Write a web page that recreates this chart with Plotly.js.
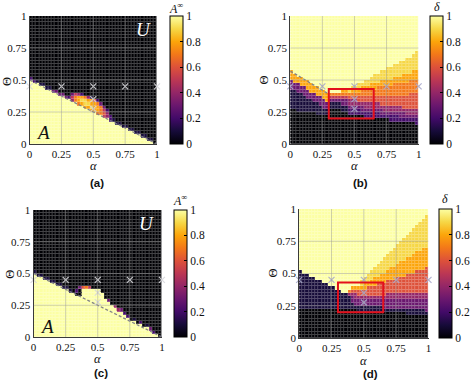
<!DOCTYPE html>
<html><head><meta charset="utf-8">
<script src="https://cdn.plot.ly/plotly-3.0.1.min.js"></script>
<style>html,body{margin:0;padding:0;background:#fff}#chart{width:474px;height:381px}</style>
</head><body><div id="chart"></div>
<script>
// ---------------- data ----------------
const alphaTicks = [0, 0.25, 0.5, 0.75, 1];
const thetaTicks = [0, 0.25, 0.5, 0.75, 1];
const cbTicks = [0, 0.2, 0.4, 0.6, 0.8, 1];
// Each string = one alpha column (left -> right); characters run bottom (Θ=0) -> top (Θ=1).
// '0'..'9' = 0..0.9, 'A' = 1.  '|' only separates groups of ten cells.
const colsA = [
"AAAAAAAAAA|AAAAAAAAAA|2000000000|0000000000",
"AAAAAAAAAA|AAAAAAAAA2|0000000000|0000000000",
"AAAAAAAAAA|AAAAAAAAA1|0000000000|0000000000",
"AAAAAAAAAA|AAAAAAAA10|0000000000|0000000000",
"AAAAAAAAAA|AAAAAAAA10|0000000000|0000000000",
"AAAAAAAAAA|AAAAAAA100|0000000000|0000000000",
"AAAAAAAAAA|AAAAAAA100|0000000000|0000000000",
"AAAAAAAAAA|AAAAAA3000|0000000000|0000000000",
"AAAAAAAAAA|AAAAAA3000|0000000000|0000000000",
"AAAAAAAAAA|AAAAA30000|0000000000|0000000000",
"AAAAAAAAAA|AAAAA30000|0000000000|0000000000",
"AAAAAAAAAA|AAAA300000|0000000000|0000000000",
"AAAAAAAAAA|AAAA200000|0000000000|0000000000",
"AAAAAAAAAA|AAA4530000|0000000000|0000000000",
"AAAAAAAAAA|AAA7750000|0000000000|0000000000",
"AAAAAAAAAA|AA78840000|0000000000|0000000000",
"AAAAAAAAAA|AA89820000|0000000000|0000000000",
"AAAAAAAAAA|A899700000|0000000000|0000000000",
"AAAAAAAAAA|A898400000|0000000000|0000000000",
"AAAAAAAAAA|8988100000|0000000000|0000000000",
"AAAAAAAAAA|8886000000|0000000000|0000000000",
"AAAAAAAAA7|8872000000|0000000000|0000000000",
"AAAAAAAAA7|7730000000|0000000000|0000000000",
"AAAAAAAA56|5300000000|0000000000|0000000000",
"AAAAAAAA44|2000000000|0000000000|0000000000",
"AAAAAAA220|0000000000|0000000000|0000000000",
"AAAAAAA100|0000000000|0000000000|0000000000",
"AAAAAA1000|0000000000|0000000000|0000000000",
"AAAAAA1000|0000000000|0000000000|0000000000",
"AAAAA10000|0000000000|0000000000|0000000000",
"AAAAA10000|0000000000|0000000000|0000000000",
"AAAA100000|0000000000|0000000000|0000000000",
"AAAA100000|0000000000|0000000000|0000000000",
"AAA1000000|0000000000|0000000000|0000000000",
"AAA1000000|0000000000|0000000000|0000000000",
"AA10000000|0000000000|0000000000|0000000000",
"AA10000000|0000000000|0000000000|0000000000",
"A100000000|0000000000|0000000000|0000000000",
"A100000000|0000000000|0000000000|0000000000",
"0000000000|0000000000|0000000000|0000000000"
];
const colsB = [
"0000000000|0111111333|888AAAAAAA|AAAAAAAAAA",
"0000000000|0111111338|88AAAAAAAA|AAAAAAAAAA",
"0000000000|1111113338|8AAAAAAAAA|AAAAAAAAAA",
"0000000000|1111113388|8AAAAAAAAA|AAAAAAAAAA",
"0000000000|1111133388|AAAAAAAAAA|AAAAAAAAAA",
"0000000000|1111333888|AAAAAAAAAA|AAAAAAAAAA",
"0000000000|111133888A|AAAAAAAAAA|AAAAAAAAAA",
"0000000000|11133388AA|AAAAAAAAAA|AAAAAAAAAA",
"0000000001|11133888AA|AAAAAAAAAA|AAAAAAAAAA",
"0000000001|1133388AAA|AAAAAAAAAA|AAAAAAAAAA",
"0000000001|1333888AAA|AAAAAAAAAA|AAAAAAAAAA",
"0000000001|133888AAAA|AAAAAAAAAA|AAAAAAAAAA",
"0000000000|011357AAAA|AAAAAAAAAA|AAAAAAAAAA",
"0000000000|011357AAAA|AAAAAAAAAA|AAAAAAAAAA",
"0000000000|011357AAAA|AAAAAAAAAA|AAAAAAAAAA",
"0000000000|011357AAAA|AAAAAAAAAA|AAAAAAAAAA",
"0000000000|1133578AAA|AAAAAAAAAA|AAAAAAAAAA",
"0000000000|1133578AAA|AAAAAAAAAA|AAAAAAAAAA",
"0000000002|2344679AAA|AAAAAAAAAA|AAAAAAAAAA",
"0000000002|23446789AA|AAAAAAAAAA|AAAAAAAAAA",
"0000000002|23446789AA|AAAAAAAAAA|AAAAAAAAAA",
"0000000002|234667899A|AAAAAAAAAA|AAAAAAAAAA",
"0000000002|334667789A|AAAAAAAAAA|AAAAAAAAAA",
"0000000022|3446677899|AAAAAAAAAA|AAAAAAAAAA",
"0000000022|3446677899|AAAAAAAAAA|AAAAAAAAAA",
"0000000022|3446677889|9AAAAAAAAA|AAAAAAAAAA",
"0000000022|3446677889|99AAAAAAAA|AAAAAAAAAA",
"0000000022|3446677789|99AAAAAAAA|AAAAAAAAAA",
"0000000023|3466677788|999AAAAAAA|AAAAAAAAAA",
"0000000023|4466677788|999AAAAAAA|AAAAAAAAAA",
"0000000023|4466677788|9999AAAAAA|AAAAAAAAAA",
"0000000223|4466677788|9999AAAAAA|AAAAAAAAAA",
"0000000223|4466677778|89999AAAAA|AAAAAAAAAA",
"0000000223|4466677778|89999AAAAA|AAAAAAAAAA",
"0000000233|4466677778|899999AAAA|AAAAAAAAAA",
"0000000233|4666677778|889999AAAA|AAAAAAAAAA",
"0000000234|4666677778|8899999AAA|AAAAAAAAAA",
"0000000234|4666667777|8899999AAA|AAAAAAAAAA",
"0000000234|4666667777|88899999AA|AAAAAAAAAA",
"0000002234|4666667777|888999999A|AAAAAAAAAA"
];
const colsC = [
"AAAAAAAAAA|AAAAAAAAAA|1000000000|0000000000",
"AAAAAAAAAA|AAAAAAAAA1|0000000000|0000000000",
"AAAAAAAAAA|AAAAAAAAA1|0000000000|0000000000",
"AAAAAAAAAA|AAAAAAAA10|0000000000|0000000000",
"AAAAAAAAAA|AAAAAAAA10|0000000000|0000000000",
"AAAAAAAAAA|AAAAAAA100|0000000000|0000000000",
"AAAAAAAAAA|AAAAAAA100|0000000000|0000000000",
"AAAAAAAAAA|AAAAAA1000|0000000000|0000000000",
"AAAAAAAAAA|AAAAAA1000|0000000000|0000000000",
"AAAAAAAAAA|AAAAA10000|0000000000|0000000000",
"AAAAAAAAAA|AAAAA10000|0000000000|0000000000",
"AAAAAAAAAA|AAAA100000|0000000000|0000000000",
"AAAAAAAAAA|AAAA000000|0000000000|0000000000",
"AAAAAAAAAA|AAA0200000|0000000000|0000000000",
"AAAAAAAAAA|AAA0030000|0000000000|0000000000",
"AAAAAAAAAA|AAAAA60000|0000000000|0000000000",
"AAAAAAAAAA|AAAAA70000|0000000000|0000000000",
"AAAAAAAAAA|AAAAA50000|0000000000|0000000000",
"AAAAAAAAAA|AAAAA00000|0000000000|0000000000",
"AAAAAAAAAA|AAAAA00000|0000000000|0000000000",
"AAAAAAAAAA|AAAAA00000|0000000000|0000000000",
"AAAAAAAAAA|AAAA000000|0000000000|0000000000",
"AAAAAAAAAA|AA00000000|0000000000|0000000000",
"AAAAAAAAAA|A300000000|0000000000|0000000000",
"AAAAAAAAAA|0000000000|0000000000|0000000000",
"AAAAAAAAA4|0000000000|0000000000|0000000000",
"AAAAAAAA40|0000000000|0000000000|0000000000",
"AAAAAAAA30|0000000000|0000000000|0000000000",
"AAAAAAA200|0000000000|0000000000|0000000000",
"AAAAAA2000|0000000000|0000000000|0000000000",
"AAAAA00000|0000000000|0000000000|0000000000",
"AAAAA10000|0000000000|0000000000|0000000000",
"AAAA000000|0000000000|0000000000|0000000000",
"AAAA200000|0000000000|0000000000|0000000000",
"AAA0000000|0000000000|0000000000|0000000000",
"AAA1000000|0000000000|0000000000|0000000000",
"AA30000000|0000000000|0000000000|0000000000",
"A200000000|0000000000|0000000000|0000000000",
"A000000000|0000000000|0000000000|0000000000",
"0000000000|0000000000|0000000000|0000000000"
];
const colsD = [
"0000000001|1111111111|1AAAAAAAAA|AAAAAAAAAA",
"0000000001|1111111111|AAAAAAAAAA|AAAAAAAAAA",
"0000000001|1111111111|AAAAAAAAAA|AAAAAAAAAA",
"0000000001|111111111A|AAAAAAAAAA|AAAAAAAAAA",
"0000000001|111111111A|AAAAAAAAAA|AAAAAAAAAA",
"0000000001|11111111AA|AAAAAAAAAA|AAAAAAAAAA",
"0000000001|11111111AA|AAAAAAAAAA|AAAAAAAAAA",
"0000000001|1111111AAA|AAAAAAAAAA|AAAAAAAAAA",
"0000000001|1111111AAA|AAAAAAAAAA|AAAAAAAAAA",
"0000000001|111111AAAA|AAAAAAAAAA|AAAAAAAAAA",
"0000000001|111111AAAA|AAAAAAAAAA|AAAAAAAAAA",
"0000000001|11111AAAAA|AAAAAAAAAA|AAAAAAAAAA",
"0000000001|11111AAAAA|AAAAAAAAAA|AAAAAAAAAA",
"0000000001|1111AAAAAA|AAAAAAAAAA|AAAAAAAAAA",
"0000000001|1111AAAAAA|AAAAAAAAAA|AAAAAAAAAA",
"0000000001|11147AAAAA|AAAAAAAAAA|AAAAAAAAAA",
"0000000001|133468AAAA|AAAAAAAAAA|AAAAAAAAAA",
"0000000001|334468AAAA|AAAAAAAAAA|AAAAAAAAAA",
"0000000011|334668AAAA|AAAAAAAAAA|AAAAAAAAAA",
"0000000011|33466899AA|AAAAAAAAAA|AAAAAAAAAA",
"0000000011|334668899A|AAAAAAAAAA|AAAAAAAAAA",
"0000000011|3346668999|AAAAAAAAAA|AAAAAAAAAA",
"0000000011|3346668899|9AAAAAAAAA|AAAAAAAAAA",
"0000000011|3346668889|99AAAAAAAA|AAAAAAAAAA",
"0000000011|3346666889|999AAAAAAA|AAAAAAAAAA",
"0000000011|3346666888|9999AAAAAA|AAAAAAAAAA",
"0000000013|3346666888|99999AAAAA|AAAAAAAAAA",
"0000000013|3344666688|899999AAAA|AAAAAAAAAA",
"0000000013|3344666688|8899999AAA|AAAAAAAAAA",
"0000000013|3344666688|88999999AA|AAAAAAAAAA",
"0000000013|3344666668|888999999A|AAAAAAAAAA",
"0000000013|3344666668|8888999999|AAAAAAAAAA",
"0000000013|3344666668|8888999999|9AAAAAAAAA",
"0000000113|3344666666|8888899999|99AAAAAAAA",
"0000000113|3344666666|8888899999|999AAAAAAA",
"0000000113|3344666666|8888889999|9999AAAAAA",
"0000000113|3344666666|6888888999|99999AAAAA",
"0000000113|3344666666|6888888999|999999AAAA",
"0000000113|3344666666|6888888899|9999999AAA",
"0000000133|3344666666|6688888899|99999999AA"
];
// sampled points (x markers)
const markAlpha = [0, 0.25, 0.5, 0.75, 1, 0.5, 0.5];
const markTheta = [0.45, 0.45, 0.45, 0.45, 0.45, 0.35, 0.275];
// dashed reference lines
const lineAC_alpha = [0, 1];
const lineAC_theta = [0.5, 0];
const lineB_alpha = [0, 0.3];
const lineB_theta = [0.57, 0.39];
// zoom box in (b) and (d)
const boxAlpha = [0.3, 0.65];
const boxTheta = [0.2, 0.43];

// ---------------- drawing ----------------
const W = 474, H = 381;
const inferno = ['#000004','#160b39','#420a68','#6a176e','#932667','#bc3754','#dd513a','#f37819','#fca50a','#f6d746','#fcffa4'];
function lighten(hex, f){
  const n = parseInt(hex.slice(1),16);
  const r=(n>>16)&255, g=(n>>8)&255, b=n&255;
  const m = c => Math.round(c + f*(255-c));
  return 'rgb('+m(r)+','+m(g)+','+m(b)+')';
}
const csMain = inferno.map((c,k)=>[k/10, c]);
const csMesh = inferno.map((c,k)=>[k/10, lighten(c,0.26)]);

function toZ(cols){
  const c = cols.map(s=>s.replace(/\|/g,''));
  const z = [];
  for(let j=0;j<40;j++){
    const row=[];
    for(let i=0;i<c.length;i++){
      const ch = c[i][j] || c[i][c[i].length-1];
      row.push(ch==='A' ? 1 : Number(ch)/10);
    }
    z.push(row);
  }
  return z;
}
const px = v => v/W, py = v => 1 - v/H;
const serif = 'Liberation Serif';

const panels = [
  {cols: colsA, xa:'x',  ya:'y',  xd:[30,159],  yd:[16,144],  cbx:172, mk:'rgba(215,215,220,0.9)'},
  {cols: colsB, xa:'x2', ya:'y2', xd:[294,424], yd:[16,144],  cbx:436, mk:'rgba(170,170,205,0.9)'},
  {cols: colsC, xa:'x3', ya:'y3', xd:[34,164],  yd:[210,337], cbx:176, mk:'rgba(215,215,220,0.9)'},
  {cols: colsD, xa:'x4', ya:'y4', xd:[303,434], yd:[209,338], cbx:445, mk:'rgba(170,170,205,0.9)'}
];

const data = [], shapes = [];
const layout = {
  width: W, height: H, margin:{l:0,r:0,t:0,b:0},
  paper_bgcolor:'#fff', plot_bgcolor:'#fff', showlegend:false,
  font:{family: serif, color:'#111'}
};
panels.forEach((p,k)=>{
  const z = toZ(p.cols);
  const base = {type:'heatmap', z:z, x0:0.0125, dx:0.025, y0:0.0125, dy:0.025,
    zmin:0, zmax:1, xaxis:p.xa, yaxis:p.ya, hoverinfo:'skip'};
  data.push(Object.assign({}, base, {colorscale: csMesh, showscale:false}));
  const h = p.yd[1]-p.yd[0];
  data.push(Object.assign({}, base, {colorscale: csMain, xgap:1, ygap:1, showscale:true,
    colorbar:{x:px(p.cbx), xanchor:'left', xpad:0, ypad:0, thickness:13, thicknessmode:'pixels',
      len:h, lenmode:'pixels', y:py((p.yd[0]+p.yd[1])/2), yanchor:'middle',
      tickvals: cbTicks, ticktext: cbTicks.map(String), ticks:'inside', ticklen:3, tickcolor:'#000',
      tickfont:{family:serif, size:11.5, color:'#111'}, outlinewidth:1, outlinecolor:'#000'}}));
  if(k===0 || k===2){
    data.push({type:'scatter', mode:'lines', x:lineAC_alpha, y:lineAC_theta, xaxis:p.xa, yaxis:p.ya,
      line:{color:'rgba(125,125,135,0.95)', width:1.3, dash:'3px,2px'}, hoverinfo:'skip'});
  }
  if(k===1){
    data.push({type:'scatter', mode:'lines', x:lineB_alpha, y:lineB_theta, xaxis:p.xa, yaxis:p.ya,
      line:{color:'rgba(125,125,135,0.95)', width:1.3, dash:'3px,2px'}, hoverinfo:'skip'});
  }
  data.push({type:'scatter', mode:'markers', x:markAlpha, y:markTheta, xaxis:p.xa, yaxis:p.ya, cliponaxis:false,
    marker:{symbol:'x-thin', size:6, line:{width:1.2, color:p.mk}}, hoverinfo:'skip'});
  const sfx = k===0 ? '' : String(k+1);
  const axCommon = {range:[0,1], showgrid:false, zeroline:false, showline:true, linecolor:'#3a3a3a', linewidth:1,
    ticks:'', fixedrange:true, tickfont:{family:serif, size:11, color:'#111'}};
  layout['xaxis'+sfx] = Object.assign({}, axCommon, {domain:[px(p.xd[0]), px(p.xd[1])], anchor:'y'+sfx,
    tickvals: alphaTicks, ticktext: alphaTicks.map(String)});
  layout['yaxis'+sfx] = Object.assign({}, axCommon, {domain:[py(p.yd[1]), py(p.yd[0])], anchor:'x'+sfx,
    tickvals: thetaTicks, ticktext: thetaTicks.map(String)});
  [0.25,0.5,0.75].forEach(v=>{
    shapes.push({type:'line', xref:p.xa, yref:p.ya, x0:v, x1:v, y0:0, y1:1, layer:'above',
      line:{color:'rgba(150,150,150,0.45)', width:1}});
    shapes.push({type:'line', xref:p.xa, yref:p.ya, x0:0, x1:1, y0:v, y1:v, layer:'above',
      line:{color:'rgba(150,150,150,0.45)', width:1}});
  });
  if(k===1 || k===3){
    shapes.push({type:'rect', xref:p.xa, yref:p.ya, x0:boxAlpha[0], x1:boxAlpha[1], y0:boxTheta[0], y1:boxTheta[1],
      layer:'above', line:{color:'#e3101c', width:2}});
  }
});
layout.shapes = shapes;

const ann = (t, x, y, o) => Object.assign({text:t, x:px(x), y:py(y), xref:'paper', yref:'paper',
  showarrow:false, xanchor:'center', yanchor:'middle'}, o||{});
const lab = {family:'Liberation Sans', size:11.5, color:'#111'};
const ax = {family:serif, size:12.5, color:'#111'};
const cbt = {family:serif, size:12, color:'#111'};
layout.annotations = [
  ann('<b>(a)</b>', 98, 183, {font:lab}),
  ann('<b>(b)</b>', 365, 183, {font:lab}),
  ann('<b>(c)</b>', 102, 373, {font:lab}),
  ann('<b>(d)</b>', 375, 374, {font:lab}),
  ann('<i>α</i>', 95, 166, {font:ax}),
  ann('<i>α</i>', 359, 166, {font:ax}),
  ann('<i>α</i>', 99, 359, {font:ax}),
  ann('<i>α</i>', 368, 361, {font:ax}),
  ann('Θ', 7, 81, {font:ax, textangle:-90}),
  ann('Θ', 267, 80, {font:ax, textangle:-90}),
  ann('Θ', 10, 274, {font:ax, textangle:-90}),
  ann('Θ', 276, 273, {font:ax, textangle:-90}),
  ann('<i>A</i><sup>∞</sup>', 178, 8, {font:cbt}),
  ann('<i>δ</i>', 443, 7, {font:cbt}),
  ann('<i>A</i><sup>∞</sup>', 182, 201, {font:cbt}),
  ann('<i>δ</i>', 451, 199, {font:cbt}),
  ann('<i>U</i>', 145, 30, {font:{family:serif, size:19, color:'#fff'}}),
  ann('<i>A</i>', 44, 132, {font:{family:serif, size:19, color:'#111'}}),
  ann('<i>U</i>', 148, 223, {font:{family:serif, size:19, color:'#fff'}}),
  ann('<i>A</i>', 48, 326, {font:{family:serif, size:19, color:'#111'}})
];

Plotly.newPlot('chart', data, layout, {staticPlot:true, displayModeBar:false});
</script>
</body></html>
